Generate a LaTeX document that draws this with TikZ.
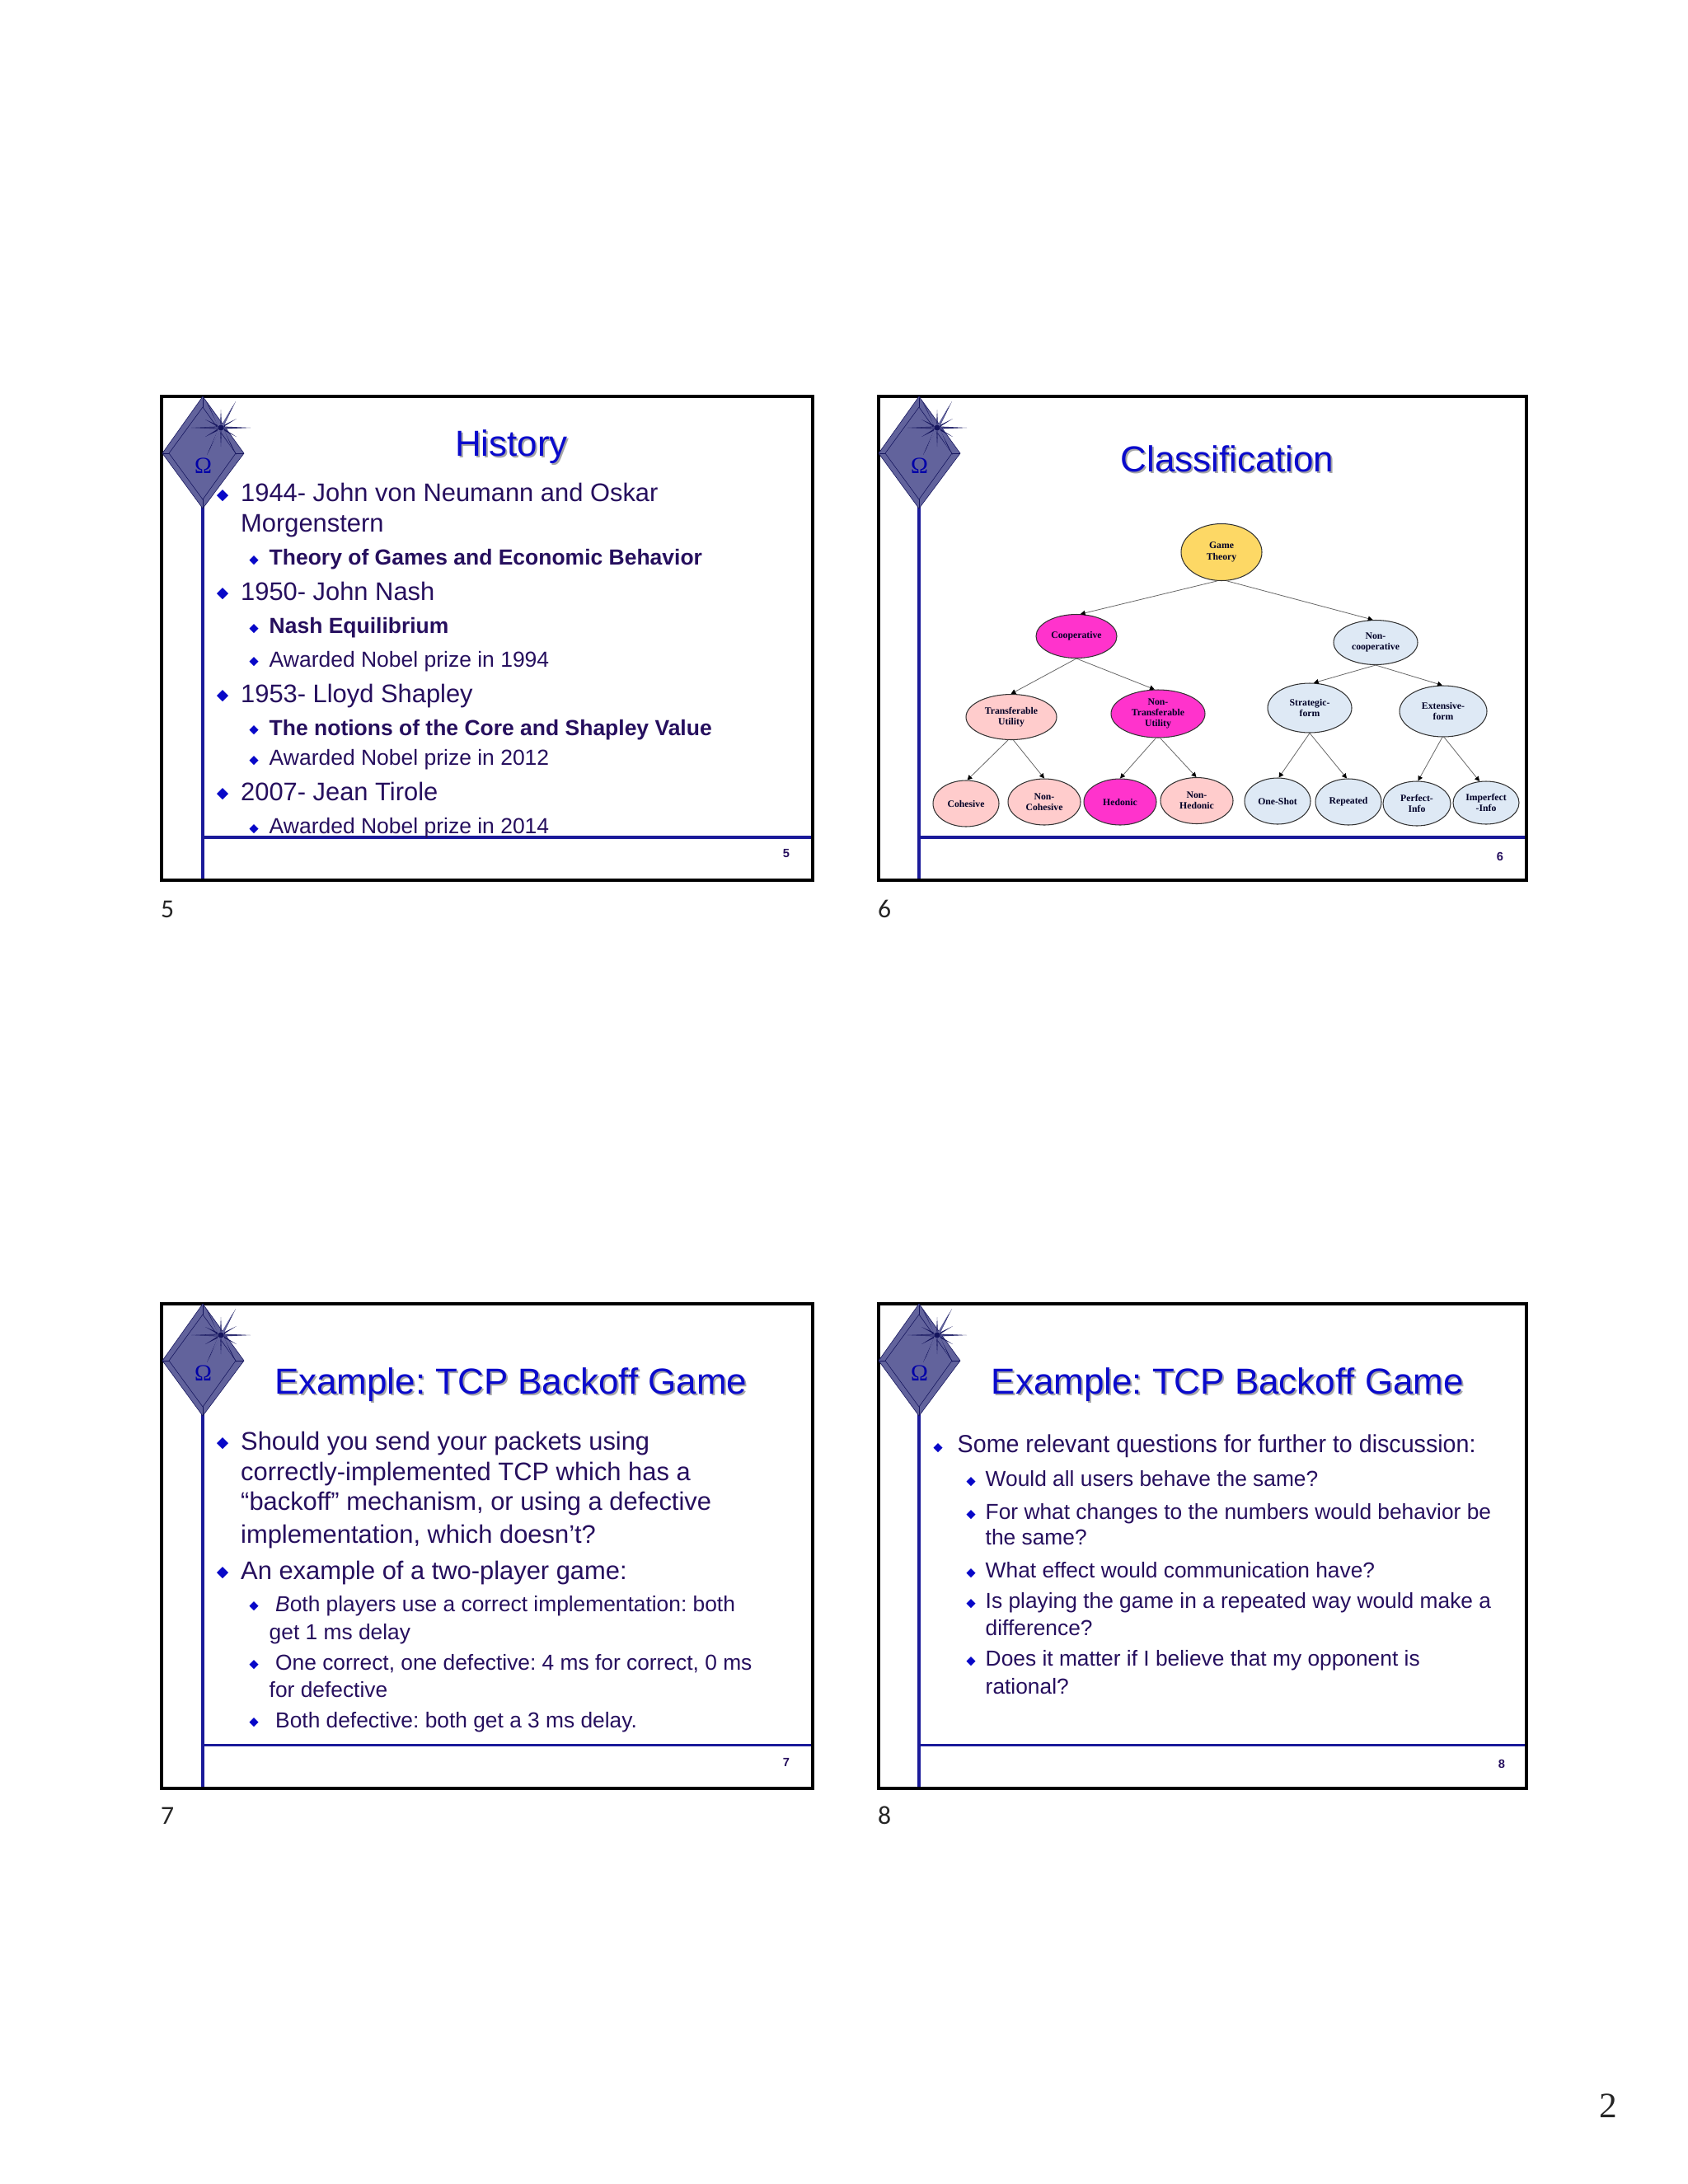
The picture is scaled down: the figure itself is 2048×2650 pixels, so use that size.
\documentclass[tikz,border=0pt]{standalone}
\usepackage{fontspec}
\setmainfont{Liberation Sans}
\newfontfamily\serifnd{Liberation Serif}
\newfontfamily\carl{Carlito}
\newfontfamily\leadfont[FakeStretch=0.955]{Liberation Sans}
\usetikzlibrary{arrows.meta,shapes.geometric}
\definecolor{frameblue}{HTML}{1A1A9A}
\definecolor{omegablue}{HTML}{0000A8}
\definecolor{titleblue}{HTML}{0A0ACC}
\definecolor{bodyink}{HTML}{260F5E}
\definecolor{bulletblue}{HTML}{0808C8}
\definecolor{diafill}{HTML}{62639C}
\definecolor{diaedge}{HTML}{15155E}
\definecolor{goldnode}{HTML}{FDD865}
\definecolor{magnode}{HTML}{FF33CC}
\definecolor{pinknode}{HTML}{FFCCCC}
\definecolor{bluenode}{HTML}{DEE9F5}
\frenchspacing
\tikzset{
  x=0.03cm,y=-0.03cm,
  txt/.style={inner sep=0pt,anchor=base west,text=bodyink},
  lone/.style={txt,font=\fontsize{26.35}{26.35}\selectfont},
  ltwo/.style={txt,font=\fontsize{22.6}{22.6}\selectfont},
  ltwoc/.style={txt,font=\fontsize{22.48}{22.48}\selectfont},
  ltwob/.style={txt,font=\fontsize{22.6}{22.6}\selectfont\bfseries},
  lead/.style={txt,font=\leadfont\fontsize{25.6}{25.6}\selectfont},
  titletxt/.style={inner sep=0pt,anchor=base,text=titleblue,font=\fontsize{37.5}{37.5}\selectfont},
  titleshade/.style={inner sep=0pt,anchor=base,text=black!35,font=\fontsize{37.5}{37.5}\selectfont},
  pagenum/.style={inner sep=0pt,text=bodyink,font=\fontsize{12.5}{12.5}\selectfont\bfseries},
  caption/.style={inner sep=0pt,anchor=base west,text=black!85,font=\carl\fontsize{27}{27}\selectfont},
  tn/.style={ellipse,draw=black!80,line width=0.9pt,inner sep=0pt,align=center,text=black!85!blue,
    font=\serifnd\bfseries\fontsize{10}{11.4}\selectfont},
  link/.style={draw=black!58,line width=0.7pt,-{Triangle[length=5pt,width=5pt,black]}},
  frameline/.style={draw=black,line width=3pt},
  rule/.style={draw=frameblue,line width=2.6pt},
}
% \slidebase{name}{left}{top}{right}{bottom}{rulex}{ruley}
\newcommand{\slidebase}[7]{
  \coordinate (#1tl) at (#2,#3);
  \coordinate (#1br) at (#4,#5);
  \coordinate (#1vt) at (#6,#3+120);
  \coordinate (#1vb) at (#6,#5);
  \coordinate (#1hl) at (#6,#7);
  \coordinate (#1hr) at (#4,#7);
  \draw[rule] (#1vt) -- (#1vb);
  \draw[rule] (#1hl) -- (#1hr);
  \draw[frameline] (#1tl) rectangle (#1br);
  \begin{scope}[shift={(#6,#3)}]
    \draw[draw=diaedge,fill=diafill,line width=0.5pt] (0,0) -- (50,69) -- (0,136) -- (-49,69) -- cycle;
    \draw[draw=diaedge,line width=0.5pt] (0,13) -- (40,69) -- (0,125) -- (-41,69) -- cycle;
    \draw[diaedge,line width=0.5pt] (0,0) -- (0,13) (50,69) -- (40,69) (0,136) -- (0,125) (-49,69) -- (-41,69);
    \begin{scope}[shift={(22,38)}]
      \fill[diaedge] (-36,0) -- (-3,-1.5) -- (-18,-32) -- (-1,-3) -- (0,-22) -- (1,-3) -- (18,-32) -- (3,-1.5) -- (36,0)
        -- (3,1.5) -- (19,33) -- (1,3) -- (0,23) -- (-1,3) -- (-17,33) -- (-3,1.5) -- cycle;
      \fill[diaedge] (-19,-10) -- (0,-1.5) -- (19,-11) -- (1.5,0) -- (19,11) -- (0,1.5) -- (-19,11) -- (-1.5,0) -- cycle;
      \fill[diafill] (-30,0) -- (-3,-0.6) -- (-14,-26) -- (-0.6,-3) -- (0,-17) -- (0.6,-3) -- (14,-26) -- (3,-0.6) -- (30,0)
        -- (3,0.6) -- (14,26) -- (0.6,3) -- (0,17) -- (-0.6,3) -- (-13,26) -- (-3,0.6) -- cycle;
      \fill[diaedge] (0,0) circle (3.5);
    \end{scope}
    \node[inner sep=0pt,anchor=base,text=omegablue,font=\serifnd\fontsize{24}{24}\selectfont] (#1omega) at (0.5,93) {Ω};
  \end{scope}
}
\newcommand{\bulA}[2]{\fill[bulletblue] (#1-7,#2-8) -- (#1,#2-15) -- (#1+7,#2-8) -- (#1,#2-1) -- cycle;}
\newcommand{\bulB}[2]{\fill[bulletblue] (#1-5.5,#2-6.5) -- (#1,#2-12) -- (#1+5.5,#2-6.5) -- (#1,#2-1) -- cycle;}
\begin{document}
\begin{tikzpicture}
\useasboundingbox (0,0) rectangle (2048,2650);
\fill[white] (0,0) rectangle (2048,2650);

%%%%% slide 5
\slidebase{a}{196}{481}{986}{1068}{246}{1016}
\node[titleshade] (atitles) at (622.5,555) {History};
\node[titletxt] (atitle) at (620.5,553) {History};
\bulA{270}{609}
\node[lone] (a1) at (292,608) {1944- John von Neumann and Oskar};
\node[lone] (a2) at (292,645) {Morgenstern};
\bulB{308}{686}
\node[ltwob] (a3) at (326.5,685.5) {Theory of Games and Economic Behavior};
\bulA{270}{728}
\node[lone] (a4) at (292,728) {1950- John Nash};
\bulB{308}{769}
\node[ltwob] (a5) at (326.5,768.5) {Nash Equilibrium};
\bulB{308}{809}
\node[ltwo] (a6) at (326.5,809) {Awarded Nobel prize in 1994};
\bulA{270}{852}
\node[lone] (a7) at (292,852.5) {1953- Lloyd Shapley};
\bulB{308}{892}
\node[ltwob] (a8) at (326.5,892) {The notions of the Core and Shapley Value};
\bulB{308}{929}
\node[ltwo] (a9) at (326.5,928.5) {Awarded Nobel prize in 2012};
\bulA{270}{971}
\node[lone] (a10) at (292,971.5) {2007- Jean Tirole};
\bulB{308}{1012}
\node[ltwo] (a11) at (326.5,1011.5) {Awarded Nobel prize in 2014};
\node[pagenum] (an) at (954,1036) {5};
\node[caption] (ac) at (195,1113) {5};

%%%%% slide 6
\slidebase{b}{1066}{481}{1852}{1068}{1115}{1016}
\node[titleshade] (btitles) at (1491,574.5) {Classification};
\node[titletxt] (btitle) at (1489,572.5) {Classification};
\node[pagenum] (bn) at (1820,1039) {6};
\node[caption] (bc) at (1065,1113) {6};

\node[tn,fill=goldnode,minimum width=98pt*0.8535,minimum height=69pt*0.8535] (gt) at (1482,670) {Game\\Theory};
\node[tn,fill=magnode,minimum width=98pt*0.8535,minimum height=53pt*0.8535] (coop) at (1306,772) {Cooperative};
\node[tn,fill=bluenode,minimum width=102pt*0.8535,minimum height=54pt*0.8535] (nc) at (1669,779.5) {Non-\\cooperative};
\node[tn,fill=pinknode,minimum width=110pt*0.8535,minimum height=55pt*0.8535] (tu) at (1227,870) {Transferable\\Utility};
\node[tn,fill=magnode,minimum width=114pt*0.8535,minimum height=58pt*0.8535] (ntu) at (1405,866) {Non-\\Transferable\\Utility};
\node[tn,fill=bluenode,minimum width=102pt*0.8535,minimum height=60pt*0.8535] (sf) at (1589,859) {Strategic-\\form};
\node[tn,fill=bluenode,minimum width=106pt*0.8535,minimum height=62pt*0.8535] (ef) at (1751,863) {Extensive-\\form};
\node[tn,fill=pinknode,minimum width=80pt*0.8535,minimum height=56pt*0.8535] (co) at (1172,975) {Cohesive};
\node[tn,fill=pinknode,minimum width=88pt*0.8535,minimum height=56pt*0.8535] (nco) at (1267,973) {Non-\\Cohesive};
\node[tn,fill=magnode,minimum width=88pt*0.8535,minimum height=56pt*0.8535] (he) at (1359,973) {Hedonic};
\node[tn,fill=pinknode,minimum width=88pt*0.8535,minimum height=56pt*0.8535] (nhe) at (1452,971.5) {Non-\\Hedonic};
\node[tn,fill=bluenode,minimum width=80pt*0.8535,minimum height=56pt*0.8535] (os) at (1550,972) {One-Shot};
\node[tn,fill=bluenode,minimum width=80pt*0.8535,minimum height=56pt*0.8535] (re) at (1636,973) {Repeated};
\node[tn,fill=bluenode,minimum width=82pt*0.8535,minimum height=54pt*0.8535] (pi) at (1719,975) {Perfect-\\Info};
\node[tn,fill=bluenode,minimum width=80pt*0.8535,minimum height=52pt*0.8535] (ii) at (1803,974) {Imperfect\\-Info};
\foreach \p/\s/\c/\a in {gt/262/coop/80,gt/280/nc/97,coop/270/tu/91,coop/270/ntu/98,nc/270/sf/81,nc/270/ef/92,
  tu/262/co/87,tu/275/nco/90,ntu/265/he/90,ntu/275/nhe/91,sf/270/os/87,sf/270/re/94,ef/268/pi/87,ef/272/ii/107}{
  \draw[link] (\p.\s) -- (\c.\a);
}

%%%%% slide 7
\slidebase{c}{196}{1582}{986}{2170}{246}{2117}
\node[titleshade,anchor=base west] (ctitles) at (335,1693) {Example: TCP Backoff Game};
\node[titletxt,anchor=base west] (ctitle) at (333,1691) {Example: TCP Backoff Game};
\bulA{270}{1759}
\node[lone] (c1) at (292,1759.5) {Should you send your packets using};
\node[lone] (c2) at (292,1796) {correctly-implemented TCP which has a};
\node[lone] (c3) at (292,1832) {“backoff” mechanism, or using a defective};
\node[lone] (c4) at (292,1872) {implementation, which doesn’t?};
\bulA{270}{1916}
\node[lone] (c5) at (292,1916) {An example of a two-player game:};
\bulB{308}{1955}
\node[ltwoc] (c6) at (334,1955.5) {\textit{B}oth players use a correct implementation: both};
\node[ltwoc] (c7) at (326.5,1989.5) {get 1 ms delay};
\bulB{308}{2026}
\node[ltwoc] (c8) at (334,2026) {One correct, one defective: 4 ms for correct, 0 ms};
\node[ltwoc] (c9) at (326.5,2059) {for defective};
\bulB{308}{2096}
\node[ltwoc] (c10) at (334,2096) {Both defective: both get a 3 ms delay.};
\node[pagenum] (cn) at (954,2138.5) {7};
\node[caption] (cc) at (195,2213) {7};

%%%%% slide 8
\slidebase{d}{1066}{1582}{1852}{2170}{1115}{2117}
\node[titleshade,anchor=base west] (dtitles) at (1204.5,1693) {Example: TCP Backoff Game};
\node[titletxt,anchor=base west] (dtitle) at (1202.5,1691) {Example: TCP Backoff Game};
\bulB{1138}{1763}
\node[lead] (d1) at (1161.5,1762) {Some relevant questions for further to discussion:};
\bulB{1178}{1804}
\node[ltwoc] (d2) at (1195.5,1803.5) {Would all users behave the same?};
\bulB{1178}{1844}
\node[ltwoc] (d3) at (1195.5,1843.5) {For what changes to the numbers would behavior be};
\node[ltwoc] (d4) at (1195.5,1874) {the same?};
\bulB{1178}{1915}
\node[ltwoc] (d5) at (1195.5,1914) {What effect would communication have?};
\bulB{1178}{1952}
\node[ltwoc] (d6) at (1195.5,1951) {Is playing the game in a repeated way would make a};
\node[ltwoc] (d7) at (1195.5,1984) {difference?};
\bulB{1178}{2022}
\node[ltwoc] (d8) at (1195.5,2021) {Does it matter if I believe that my opponent is};
\node[ltwoc] (d9) at (1195.5,2055) {rational?};
\node[pagenum] (dn) at (1822,2140.5) {8};
\node[caption] (dc) at (1065,2213) {8};

%%%%% sheet number
\node[inner sep=0pt,anchor=base,text=black!85,font=\serifnd\fontsize{37}{37}\selectfont] (sheet) at (1951,2569) {2};
\end{tikzpicture}
\end{document}
